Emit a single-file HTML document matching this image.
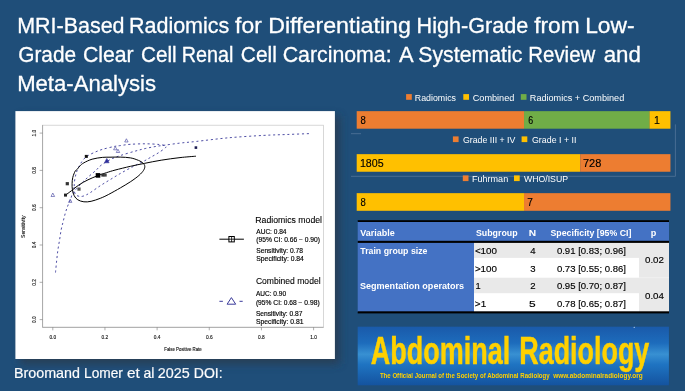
<!DOCTYPE html>
<html lang="en"><head><meta charset="utf-8"><title>MRI-Based Radiomics</title>
<style>html,body{margin:0;padding:0;background:#1F4E79;overflow:hidden}svg{display:block}text{font-family:"Liberation Sans",Arial,sans-serif}</style>
</head><body>
<svg width="685" height="391" viewBox="0 0 685 391">
<defs>
<linearGradient id="bn" x1="0" y1="0" x2="0" y2="1"><stop offset="0" stop-color="#1A5AAA"/><stop offset="0.28" stop-color="#1D6CBC"/><stop offset="0.47" stop-color="#3890D2"/><stop offset="0.64" stop-color="#1F74C2"/><stop offset="1" stop-color="#14539F"/></linearGradient>
<pattern id="hatch" width="1.5" height="1.5" patternUnits="userSpaceOnUse"><rect width="1.5" height="1.5" fill="#666"/><rect width="0.75" height="0.75" fill="#111"/><rect x="0.75" y="0.75" width="0.75" height="0.75" fill="#111"/></pattern>
<filter id="sh" x="-10%" y="-10%" width="120%" height="120%"><feGaussianBlur stdDeviation="4.2"/></filter>
</defs>
<rect width="685" height="391" fill="#1F4E79"/>
<text x="17.23" y="32.60" font-size="21.80" fill="#fff" textLength="107.28" lengthAdjust="spacingAndGlyphs" stroke="#fff" stroke-width="0.3">MRI-Based</text>
<text x="128.93" y="32.60" font-size="21.80" fill="#fff" textLength="100.41" lengthAdjust="spacingAndGlyphs" stroke="#fff" stroke-width="0.3">Radiomics</text>
<text x="235.10" y="32.60" font-size="21.80" fill="#fff" textLength="26.66" lengthAdjust="spacingAndGlyphs" stroke="#fff" stroke-width="0.3">for</text>
<text x="268.17" y="32.60" font-size="21.80" fill="#fff" textLength="142.69" lengthAdjust="spacingAndGlyphs" stroke="#fff" stroke-width="0.3">Differentiating</text>
<text x="416.62" y="32.60" font-size="21.80" fill="#fff" textLength="111.55" lengthAdjust="spacingAndGlyphs" stroke="#fff" stroke-width="0.3">High-Grade</text>
<text x="534.20" y="32.60" font-size="21.80" fill="#fff" textLength="45.37" lengthAdjust="spacingAndGlyphs" stroke="#fff" stroke-width="0.3">from</text>
<text x="585.21" y="32.60" font-size="21.80" fill="#fff" textLength="49.29" lengthAdjust="spacingAndGlyphs" stroke="#fff" stroke-width="0.3">Low-</text>
<text x="18.25" y="61.90" font-size="21.80" fill="#fff" textLength="57.82" lengthAdjust="spacingAndGlyphs" stroke="#fff" stroke-width="0.3">Grade</text>
<text x="82.93" y="61.90" font-size="21.80" fill="#fff" textLength="50.77" lengthAdjust="spacingAndGlyphs" stroke="#fff" stroke-width="0.3">Clear</text>
<text x="141.05" y="61.90" font-size="21.80" fill="#fff" textLength="35.63" lengthAdjust="spacingAndGlyphs" stroke="#fff" stroke-width="0.3">Cell</text>
<text x="181.79" y="61.90" font-size="21.80" fill="#fff" textLength="51.68" lengthAdjust="spacingAndGlyphs" stroke="#fff" stroke-width="0.3">Renal</text>
<text x="240.84" y="61.90" font-size="21.80" fill="#fff" textLength="35.95" lengthAdjust="spacingAndGlyphs" stroke="#fff" stroke-width="0.3">Cell</text>
<text x="282.72" y="61.90" font-size="21.80" fill="#fff" textLength="108.90" lengthAdjust="spacingAndGlyphs" stroke="#fff" stroke-width="0.3">Carcinoma:</text>
<text x="398.90" y="61.90" font-size="21.80" fill="#fff" textLength="14.65" lengthAdjust="spacingAndGlyphs" stroke="#fff" stroke-width="0.3">A</text>
<text x="418.22" y="61.90" font-size="21.80" fill="#fff" textLength="104.16" lengthAdjust="spacingAndGlyphs" stroke="#fff" stroke-width="0.3">Systematic</text>
<text x="528.33" y="61.90" font-size="21.80" fill="#fff" textLength="66.87" lengthAdjust="spacingAndGlyphs" stroke="#fff" stroke-width="0.3">Review</text>
<text x="603.68" y="61.90" font-size="21.80" fill="#fff" textLength="37.23" lengthAdjust="spacingAndGlyphs" stroke="#fff" stroke-width="0.3">and</text>
<text x="17.17" y="91.20" font-size="21.80" fill="#fff" textLength="138.83" lengthAdjust="spacingAndGlyphs" stroke="#fff" stroke-width="0.3">Meta-Analysis</text>
<text x="13.93" y="378.10" font-size="14.80" fill="#fff" textLength="66.01" lengthAdjust="spacingAndGlyphs" stroke="#fff" stroke-width="0.2">Broomand</text>
<text x="84.07" y="378.10" font-size="14.80" fill="#fff" textLength="38.88" lengthAdjust="spacingAndGlyphs" stroke="#fff" stroke-width="0.2">Lomer</text>
<text x="127.06" y="378.10" font-size="14.80" fill="#fff" textLength="12.79" lengthAdjust="spacingAndGlyphs" stroke="#fff" stroke-width="0.2">et</text>
<text x="143.45" y="378.10" font-size="14.80" fill="#fff" textLength="10.95" lengthAdjust="spacingAndGlyphs" stroke="#fff" stroke-width="0.2">al</text>
<text x="157.83" y="378.10" font-size="14.80" fill="#fff" textLength="31.97" lengthAdjust="spacingAndGlyphs" stroke="#fff" stroke-width="0.2">2025</text>
<text x="193.75" y="378.10" font-size="14.80" fill="#fff" textLength="28.90" lengthAdjust="spacingAndGlyphs" stroke="#fff" stroke-width="0.2">DOI:</text>
<g id="roc">
<rect x="20.0" y="116.0" width="319.5" height="247.9" fill="#2c3a4c" opacity="0.8" filter="url(#sh)"/>
<rect x="15.4" y="111.1" width="319.5" height="247.9" fill="#fff"/>
<rect x="42.60" y="125.20" width="281.00" height="202.10" fill="none" stroke="#c6c6c6" stroke-width="0.7"/>
<path d="M42.60 125.20V327.30H323.60" fill="none" stroke="#9c9c9c" stroke-width="0.8"/>
<line x1="52.80" y1="327.30" x2="52.80" y2="330.30" stroke="#777" stroke-width="0.6"/>
<line x1="39.60" y1="319.60" x2="42.60" y2="319.60" stroke="#777" stroke-width="0.6"/>
<text x="52.80" y="338.80" font-size="4.80" fill="#111" text-anchor="middle" stroke="#111" stroke-width="0.12">0.0</text>
<text transform="translate(35.6 319.60) rotate(-90)" font-size="4.8" fill="#111" text-anchor="middle" stroke="#111" stroke-width="0.12">0.0</text>
<line x1="104.96" y1="327.30" x2="104.96" y2="330.30" stroke="#777" stroke-width="0.6"/>
<line x1="39.60" y1="282.30" x2="42.60" y2="282.30" stroke="#777" stroke-width="0.6"/>
<text x="104.96" y="338.80" font-size="4.80" fill="#111" text-anchor="middle" stroke="#111" stroke-width="0.12">0.2</text>
<text transform="translate(35.6 282.30) rotate(-90)" font-size="4.8" fill="#111" text-anchor="middle" stroke="#111" stroke-width="0.12">0.2</text>
<line x1="157.12" y1="327.30" x2="157.12" y2="330.30" stroke="#777" stroke-width="0.6"/>
<line x1="39.60" y1="245.00" x2="42.60" y2="245.00" stroke="#777" stroke-width="0.6"/>
<text x="157.12" y="338.80" font-size="4.80" fill="#111" text-anchor="middle" stroke="#111" stroke-width="0.12">0.4</text>
<text transform="translate(35.6 245.00) rotate(-90)" font-size="4.8" fill="#111" text-anchor="middle" stroke="#111" stroke-width="0.12">0.4</text>
<line x1="209.28" y1="327.30" x2="209.28" y2="330.30" stroke="#777" stroke-width="0.6"/>
<line x1="39.60" y1="207.70" x2="42.60" y2="207.70" stroke="#777" stroke-width="0.6"/>
<text x="209.28" y="338.80" font-size="4.80" fill="#111" text-anchor="middle" stroke="#111" stroke-width="0.12">0.6</text>
<text transform="translate(35.6 207.70) rotate(-90)" font-size="4.8" fill="#111" text-anchor="middle" stroke="#111" stroke-width="0.12">0.6</text>
<line x1="261.44" y1="327.30" x2="261.44" y2="330.30" stroke="#777" stroke-width="0.6"/>
<line x1="39.60" y1="170.40" x2="42.60" y2="170.40" stroke="#777" stroke-width="0.6"/>
<text x="261.44" y="338.80" font-size="4.80" fill="#111" text-anchor="middle" stroke="#111" stroke-width="0.12">0.8</text>
<text transform="translate(35.6 170.40) rotate(-90)" font-size="4.8" fill="#111" text-anchor="middle" stroke="#111" stroke-width="0.12">0.8</text>
<line x1="313.60" y1="327.30" x2="313.60" y2="330.30" stroke="#777" stroke-width="0.6"/>
<line x1="39.60" y1="133.10" x2="42.60" y2="133.10" stroke="#777" stroke-width="0.6"/>
<text x="313.60" y="338.80" font-size="4.80" fill="#111" text-anchor="middle" stroke="#111" stroke-width="0.12">1.0</text>
<text transform="translate(35.6 133.10) rotate(-90)" font-size="4.8" fill="#111" text-anchor="middle" stroke="#111" stroke-width="0.12">1.0</text>
<text x="183.00" y="350.50" font-size="4.60" fill="#111" text-anchor="middle" textLength="37.50" lengthAdjust="spacingAndGlyphs" stroke="#111" stroke-width="0.12">False Positive Rate</text>
<text transform="translate(24.8 226.7) rotate(-90)" font-size="4.6" fill="#111" text-anchor="middle" textLength="22.5" lengthAdjust="spacingAndGlyphs" stroke="#111" stroke-width="0.12">Sensitivity</text>
<path d="M74.20 186.10 C74.28 184.35 74.40 182.02 74.70 180.00 C75.00 177.98 75.48 175.85 76.00 174.00 C76.52 172.15 76.83 170.95 77.80 168.90 C78.77 166.85 80.38 163.72 81.80 161.70 C83.22 159.68 84.42 158.25 86.30 156.80 C88.18 155.35 90.43 154.23 93.10 153.00 C95.77 151.77 98.72 150.50 102.30 149.40 C105.88 148.30 111.62 147.03 114.60 146.40 C117.58 145.77 117.55 145.95 120.20 145.60 C122.85 145.25 126.23 144.60 130.50 144.30 C134.77 144.00 141.03 143.77 145.80 143.80 C150.57 143.83 155.85 144.15 159.10 144.50 C162.35 144.85 164.27 145.33 165.30 145.90 C166.33 146.47 166.50 146.72 165.30 147.90 C164.10 149.08 160.48 151.47 158.10 153.00 C155.72 154.53 153.22 155.82 151.00 157.10 C148.78 158.38 147.03 159.50 144.80 160.70 C142.57 161.90 139.95 163.12 137.60 164.30 C135.25 165.48 133.55 166.28 130.70 167.80 C127.85 169.32 123.92 171.43 120.50 173.40 C117.08 175.37 113.62 177.52 110.20 179.60 C106.78 181.68 103.37 183.70 100.00 185.90 C96.63 188.10 92.68 191.13 90.00 192.80 C87.32 194.47 85.60 195.30 83.90 195.90 C82.20 196.50 81.17 196.58 79.80 196.40 C78.43 196.22 76.63 195.78 75.70 194.80 C74.77 193.82 74.45 191.95 74.20 190.50 C73.95 189.05 74.12 187.85 74.20 186.10Z" fill="none" stroke="#3a3a9a" stroke-width="0.9" stroke-dasharray="2.1 2.7"/>
<path d="M55.50 272.50 C55.70 270.47 56.30 264.05 56.70 260.30 C57.10 256.55 57.42 253.42 57.90 250.00 C58.38 246.58 59.05 243.20 59.60 239.80 C60.15 236.40 60.60 232.67 61.20 229.60 C61.80 226.53 62.52 224.13 63.20 221.40 C63.88 218.67 64.55 215.77 65.30 213.20 C66.05 210.63 66.82 208.30 67.70 206.00 C68.58 203.70 69.78 201.52 70.60 199.40 C71.42 197.28 71.58 195.12 72.60 193.30 C73.62 191.48 74.98 190.40 76.70 188.50 C78.42 186.60 80.85 183.93 82.90 181.90 C84.95 179.87 86.78 178.27 89.00 176.30 C91.22 174.33 94.23 171.90 96.20 170.10 C98.17 168.30 98.50 167.23 100.80 165.50 C103.10 163.77 106.72 161.37 110.00 159.70 C113.28 158.03 116.23 156.95 120.50 155.50 C124.77 154.05 131.38 152.18 135.60 151.00 C139.82 149.82 142.38 149.17 145.80 148.40 C149.22 147.63 152.85 146.95 156.10 146.40 C159.35 145.85 161.32 145.65 165.30 145.10 C169.28 144.55 174.93 143.70 180.00 143.10 C185.07 142.50 187.63 142.38 195.70 141.50 C203.77 140.62 217.10 138.82 228.40 137.80 C239.70 136.78 253.77 135.95 263.50 135.40 C273.23 134.85 279.10 134.80 286.80 134.50 C294.50 134.20 305.88 133.75 309.70 133.60" fill="none" stroke="#3a3a9a" stroke-width="0.9" stroke-dasharray="2.1 2.7"/>
<path d="M77.20 169.40 C77.97 168.55 78.68 167.10 79.80 166.00 C80.92 164.90 81.85 163.93 83.90 162.80 C85.95 161.67 89.03 160.10 92.10 159.20 C95.17 158.30 99.32 157.73 102.30 157.40 C105.28 157.07 107.02 157.25 110.00 157.20 C112.98 157.15 116.77 156.98 120.20 157.10 C123.63 157.22 127.55 157.35 130.60 157.90 C133.65 158.45 136.43 159.53 138.50 160.40 C140.57 161.27 141.95 162.12 143.00 163.10 C144.05 164.08 144.72 165.08 144.80 166.30 C144.88 167.52 144.48 168.87 143.50 170.40 C142.52 171.93 141.03 173.63 138.90 175.50 C136.77 177.37 133.77 179.55 130.70 181.60 C127.63 183.65 124.23 185.63 120.50 187.80 C116.77 189.97 111.67 192.85 108.30 194.60 C104.93 196.35 103.17 197.18 100.30 198.30 C97.43 199.42 93.83 200.72 91.10 201.30 C88.37 201.88 86.12 202.05 83.90 201.80 C81.68 201.55 79.42 200.82 77.80 199.80 C76.18 198.78 75.10 197.40 74.20 195.70 C73.30 194.00 72.75 191.65 72.40 189.60 C72.05 187.55 72.03 185.45 72.10 183.40 C72.17 181.35 72.28 179.35 72.80 177.30 C73.32 175.25 74.47 172.42 75.20 171.10 C75.93 169.78 76.43 170.25 77.20 169.40Z" fill="none" stroke="#000" stroke-width="1"/>
<path d="M65.50 195.20 C66.52 194.43 69.38 192.30 71.60 190.60 C73.82 188.90 76.07 186.80 78.80 185.00 C81.53 183.20 84.85 181.35 88.00 179.80 C91.15 178.25 94.63 176.88 97.70 175.70 C100.77 174.52 103.52 173.63 106.40 172.70 C109.28 171.77 110.98 171.17 115.00 170.10 C119.02 169.03 125.53 167.43 130.50 166.30 C135.47 165.17 139.68 164.32 144.80 163.30 C149.92 162.28 155.33 161.15 161.20 160.20 C167.07 159.25 174.22 158.27 180.00 157.60 C185.78 156.93 193.25 156.43 195.90 156.20" fill="none" stroke="#000" stroke-width="1"/>
<rect x="84.80" y="154.90" width="3.00" height="3.00" fill="#111"/>
<rect x="95.70" y="173.10" width="4.60" height="4.60" fill="#000"/>
<rect x="101.30" y="173.60" width="3.00" height="3.00" fill="#333"/>
<rect x="103.70" y="173.60" width="3.00" height="3.00" fill="#444"/>
<rect x="65.70" y="182.10" width="3.20" height="3.20" fill="#333"/>
<rect x="77.40" y="187.50" width="3.20" height="3.20" fill="#555"/>
<rect x="64.00" y="193.60" width="3.00" height="3.00" fill="#222"/>
<rect x="194.60" y="146.30" width="2.60" height="2.60" fill="#1c1c50"/>
<path d="M126.40 138.76 L128.10 141.99 L124.70 141.99Z" fill="none" stroke="#3a3a9a" stroke-width="0.60"/>
<path d="M115.30 146.56 L117.00 149.79 L113.60 149.79Z" fill="none" stroke="#3a3a9a" stroke-width="0.60"/>
<path d="M118.00 149.26 L119.70 152.49 L116.30 152.49Z" fill="none" stroke="#3a3a9a" stroke-width="0.60"/>
<path d="M52.80 193.05 L54.60 196.47 L51.00 196.47Z" fill="none" stroke="#3a3a9a" stroke-width="0.60"/>
<path d="M70.20 199.16 L71.90 202.39 L68.50 202.39Z" fill="none" stroke="#3a3a9a" stroke-width="0.60"/>
<path d="M106.80 158.38 L109.10 162.75 L104.50 162.75Z" fill="#2a2a9c" stroke="#3a3a9a" stroke-width="0.60"/>
<text x="255.32" y="222.50" font-size="8.90" fill="#000" textLength="66.74" lengthAdjust="spacingAndGlyphs" stroke="#000" stroke-width="0.1">Radiomics model</text>
<text x="256.30" y="233.70" font-size="6.40" fill="#000" textLength="30.20" lengthAdjust="spacingAndGlyphs" stroke="#000" stroke-width="0.15">AUC: 0.84</text>
<text x="256.30" y="242.10" font-size="6.40" fill="#000" textLength="63.73" lengthAdjust="spacingAndGlyphs" stroke="#000" stroke-width="0.15">(95% CI: 0.66 − 0.90)</text>
<text x="256.30" y="252.60" font-size="6.40" fill="#000" textLength="46.56" lengthAdjust="spacingAndGlyphs" stroke="#000" stroke-width="0.15">Sensitivity: 0.78</text>
<text x="256.30" y="260.50" font-size="6.40" fill="#000" textLength="47.61" lengthAdjust="spacingAndGlyphs" stroke="#000" stroke-width="0.15">Specificity: 0.84</text>
<text x="255.90" y="284.10" font-size="8.90" fill="#000" textLength="64.65" lengthAdjust="spacingAndGlyphs" stroke="#000" stroke-width="0.1">Combined model</text>
<text x="255.90" y="296.30" font-size="6.40" fill="#000" textLength="30.20" lengthAdjust="spacingAndGlyphs" stroke="#000" stroke-width="0.15">AUC: 0.90</text>
<text x="255.90" y="304.70" font-size="6.40" fill="#000" textLength="63.73" lengthAdjust="spacingAndGlyphs" stroke="#000" stroke-width="0.15">(95% CI: 0.68 − 0.98)</text>
<text x="255.90" y="315.60" font-size="6.40" fill="#000" textLength="46.56" lengthAdjust="spacingAndGlyphs" stroke="#000" stroke-width="0.15">Sensitivity: 0.87</text>
<text x="255.90" y="323.50" font-size="6.40" fill="#000" textLength="47.61" lengthAdjust="spacingAndGlyphs" stroke="#000" stroke-width="0.15">Specificity: 0.81</text>
<line x1="219.4" y1="239.2" x2="243.9" y2="239.2" stroke="#000" stroke-width="1"/>
<rect x="228.9" y="236.5" width="5.4" height="5.4" fill="#fff" stroke="#000" stroke-width="1"/>
<path d="M231.6 236.4V242M228.8 239.2H234.4" stroke="#000" stroke-width="0.8" fill="none"/>
<path d="M219.4 301.3H222.9M239.5 301.3H242.7" stroke="#3a3a9a" stroke-width="1" fill="none"/>
<path d="M231.4 297.6L235.7 304.2H227.1Z" fill="#fff" stroke="#3a3a9a" stroke-width="1"/>
</g>
<g id="bars">
<path d="M351 133.7H361M351 176.3H675.4V124.4" fill="none" stroke="#5a7b9f" stroke-width="0.7"/>
<rect x="356.70" y="111.15" width="167.36" height="17.55" fill="#ED7D31"/>
<rect x="524.01" y="111.15" width="125.53" height="17.55" fill="#70AD47"/>
<rect x="649.49" y="111.15" width="20.96" height="17.55" fill="#FFC000"/>
<text x="360.50" y="123.90" font-size="10.80" fill="#000" textLength="5.31" lengthAdjust="spacingAndGlyphs" stroke="#000" stroke-width="0.15">8</text>
<text x="528.20" y="123.90" font-size="10.80" fill="#000" textLength="4.91" lengthAdjust="spacingAndGlyphs" stroke="#000" stroke-width="0.15">6</text>
<text x="653.92" y="123.90" font-size="10.80" fill="#000" textLength="5.87" lengthAdjust="spacingAndGlyphs" stroke="#000" stroke-width="0.15">1</text>
<rect x="356.70" y="154.15" width="223.59" height="17.60" fill="#FFC000"/>
<rect x="580.24" y="154.15" width="90.21" height="17.60" fill="#ED7D31"/>
<text x="359.91" y="166.90" font-size="10.80" fill="#000" textLength="23.72" lengthAdjust="spacingAndGlyphs" stroke="#000" stroke-width="0.15">1805</text>
<text x="582.98" y="166.90" font-size="10.80" fill="#000" textLength="18.44" lengthAdjust="spacingAndGlyphs" stroke="#000" stroke-width="0.15">728</text>
<rect x="356.70" y="193.15" width="167.36" height="17.65" fill="#FFC000"/>
<rect x="524.01" y="193.15" width="146.44" height="17.65" fill="#ED7D31"/>
<text x="360.50" y="205.70" font-size="10.80" fill="#000" textLength="5.31" lengthAdjust="spacingAndGlyphs" stroke="#000" stroke-width="0.15">8</text>
<text x="527.26" y="205.70" font-size="10.80" fill="#000" textLength="5.65" lengthAdjust="spacingAndGlyphs" stroke="#000" stroke-width="0.15">7</text>
<rect x="406.10" y="94.10" width="5.7" height="5.7" fill="#ED7D31"/>
<text x="414.84" y="100.60" font-size="9.20" fill="#fff" textLength="41.15" lengthAdjust="spacingAndGlyphs">Radiomics</text>
<rect x="463.30" y="94.10" width="5.7" height="5.7" fill="#FFC000"/>
<text x="472.70" y="100.60" font-size="9.20" fill="#fff" textLength="41.69" lengthAdjust="spacingAndGlyphs">Combined</text>
<rect x="520.80" y="94.10" width="5.7" height="5.7" fill="#70AD47"/>
<text x="529.81" y="100.60" font-size="9.20" fill="#fff" textLength="94.44" lengthAdjust="spacingAndGlyphs">Radiomics + Combined</text>
<rect x="452.90" y="136.40" width="5.7" height="5.7" fill="#ED7D31"/>
<text x="463.00" y="142.90" font-size="9.20" fill="#fff" textLength="52.41" lengthAdjust="spacingAndGlyphs">Grade III + IV</text>
<rect x="521.60" y="136.40" width="5.7" height="5.7" fill="#FFC000"/>
<text x="532.00" y="142.90" font-size="9.20" fill="#fff" textLength="44.41" lengthAdjust="spacingAndGlyphs">Grade I + II</text>
<rect x="462.80" y="175.40" width="5.7" height="5.7" fill="#ED7D31"/>
<text x="472.02" y="181.60" font-size="9.20" fill="#fff" textLength="36.14" lengthAdjust="spacingAndGlyphs">Fuhrman</text>
<rect x="514.00" y="175.40" width="5.7" height="5.7" fill="#FFC000"/>
<text x="524.00" y="181.60" font-size="9.20" fill="#fff" textLength="44.03" lengthAdjust="spacingAndGlyphs">WHO/ISUP</text>
</g>
<g id="table">
<rect x="357.70" y="221" width="311.30" height="91" fill="#4472C4"/>
<rect x="474.0" y="242" width="195.00" height="70" fill="#E9E9E9"/>
<rect x="474.0" y="257.90" width="165.00" height="19.80" fill="#fff"/>
<rect x="474.0" y="293.20" width="165.00" height="18.80" fill="#fff"/>
<line x1="639" y1="277.6" x2="669.00" y2="277.6" stroke="#f4f4f4" stroke-width="0.6"/>
<rect x="357.70" y="220.20" width="311.30" height="1.80" fill="#000"/>
<rect x="357.70" y="240.80" width="311.30" height="2.10" fill="#000"/>
<rect x="357.70" y="311.30" width="311.30" height="2.10" fill="#000"/>
<text x="360.30" y="235.60" font-size="9.90" fill="#fff" font-weight="bold" textLength="34.50" lengthAdjust="spacingAndGlyphs">Variable</text>
<text x="475.90" y="235.60" font-size="9.90" fill="#fff" font-weight="bold" textLength="41.66" lengthAdjust="spacingAndGlyphs">Subgroup</text>
<text x="528.77" y="235.60" font-size="9.90" fill="#fff" font-weight="bold" textLength="7.38" lengthAdjust="spacingAndGlyphs">N</text>
<text x="550.50" y="235.60" font-size="9.90" fill="#fff" font-weight="bold" textLength="80.90" lengthAdjust="spacingAndGlyphs">Specificity [95% CI]</text>
<text x="650.78" y="235.60" font-size="9.90" fill="#fff" font-weight="bold" textLength="5.56" lengthAdjust="spacingAndGlyphs">p</text>
<text x="360.30" y="253.50" font-size="9.90" fill="#fff" font-weight="bold" textLength="67.15" lengthAdjust="spacingAndGlyphs">Train group size</text>
<text x="359.90" y="289.10" font-size="9.90" fill="#fff" font-weight="bold" textLength="104.24" lengthAdjust="spacingAndGlyphs">Segmentation operators</text>
<text x="474.90" y="253.60" font-size="9.80" fill="#000" textLength="22.08" lengthAdjust="spacingAndGlyphs" stroke="#000" stroke-width="0.15">&lt;100</text>
<text x="530.20" y="253.60" font-size="9.80" fill="#000" textLength="5.34" lengthAdjust="spacingAndGlyphs" stroke="#000" stroke-width="0.15">4</text>
<text x="556.90" y="253.60" font-size="9.80" fill="#000" textLength="69.09" lengthAdjust="spacingAndGlyphs" stroke="#000" stroke-width="0.15">0.91 [0.83; 0.96]</text>
<text x="474.90" y="271.50" font-size="9.80" fill="#000" textLength="22.08" lengthAdjust="spacingAndGlyphs" stroke="#000" stroke-width="0.15">&gt;100</text>
<text x="530.20" y="271.50" font-size="9.80" fill="#000" textLength="5.34" lengthAdjust="spacingAndGlyphs" stroke="#000" stroke-width="0.15">3</text>
<text x="556.90" y="271.50" font-size="9.80" fill="#000" textLength="69.09" lengthAdjust="spacingAndGlyphs" stroke="#000" stroke-width="0.15">0.73 [0.55; 0.86]</text>
<text x="475.55" y="289.10" font-size="9.80" fill="#000" textLength="5.18" lengthAdjust="spacingAndGlyphs" stroke="#000" stroke-width="0.15">1</text>
<text x="530.20" y="289.10" font-size="9.80" fill="#000" textLength="5.34" lengthAdjust="spacingAndGlyphs" stroke="#000" stroke-width="0.15">2</text>
<text x="556.90" y="289.10" font-size="9.80" fill="#000" textLength="69.09" lengthAdjust="spacingAndGlyphs" stroke="#000" stroke-width="0.15">0.95 [0.70; 0.87]</text>
<text x="474.89" y="306.70" font-size="9.80" fill="#000" textLength="11.28" lengthAdjust="spacingAndGlyphs" stroke="#000" stroke-width="0.15">&gt;1</text>
<text x="528.98" y="306.70" font-size="9.80" fill="#000" textLength="6.68" lengthAdjust="spacingAndGlyphs" stroke="#000" stroke-width="0.15">5</text>
<text x="556.90" y="306.70" font-size="9.80" fill="#000" textLength="69.09" lengthAdjust="spacingAndGlyphs" stroke="#000" stroke-width="0.15">0.78 [0.65; 0.87]</text>
<text x="645.00" y="263.40" font-size="9.80" fill="#000" textLength="18.97" lengthAdjust="spacingAndGlyphs" stroke="#000" stroke-width="0.15">0.02</text>
<text x="645.00" y="299.10" font-size="9.80" fill="#000" textLength="18.97" lengthAdjust="spacingAndGlyphs" stroke="#000" stroke-width="0.15">0.04</text>
</g>
<g id="banner">
<rect x="357.7" y="326.7" width="311.2" height="58.6" fill="url(#bn)"/>
<circle cx="634.2" cy="327.3" r="0.6" fill="#cfe3f5"/>
<text x="370.81" y="364.00" font-size="39.20" fill="#FFD100" font-weight="bold" textLength="139.39" lengthAdjust="spacingAndGlyphs" stroke="#FFD100" stroke-width="0.5">Abdominal</text>
<text x="519.24" y="364.00" font-size="39.20" fill="#FFD100" font-weight="bold" textLength="130.05" lengthAdjust="spacingAndGlyphs" stroke="#FFD100" stroke-width="0.5">Radiology</text>
<text x="379.90" y="377.90" font-size="6.40" fill="#FFD100" font-weight="bold" textLength="169.76" lengthAdjust="spacingAndGlyphs">The Official Journal of the Society of Abdominal Radiology</text>
<text x="553.20" y="377.90" font-size="6.40" fill="#FFD100" font-weight="bold" textLength="89.57" lengthAdjust="spacingAndGlyphs">www.abdominalradiology.org</text>
</g>
</svg>
</body></html>
